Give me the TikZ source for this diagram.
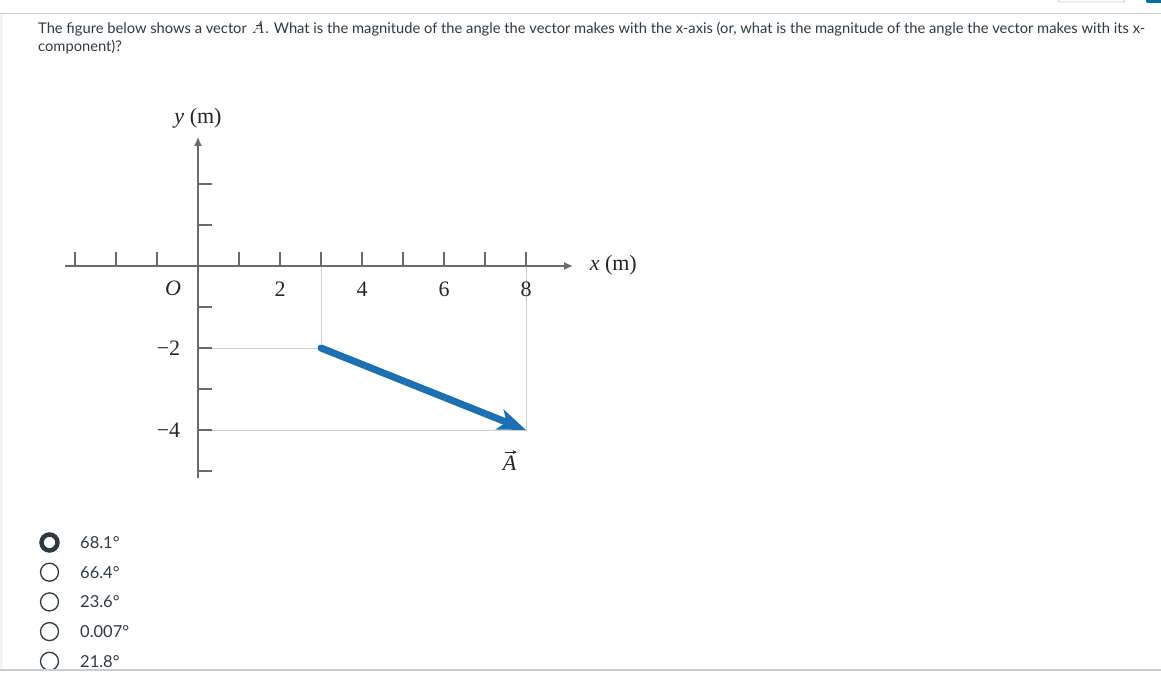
\documentclass[tikz,border=0pt]{standalone}
\usepackage{fontspec}
\setmainfont{Liberation Serif}
\newfontfamily\lato{Lato}
\usetikzlibrary{arrows.meta}
\definecolor{axisgray}{HTML}{6A6A6A}
\definecolor{gridgray}{HTML}{CFCFCF}
\definecolor{vecblue}{HTML}{1C6FB3}
\definecolor{uitext}{HTML}{2D3B45}
\definecolor{uiline}{HTML}{C7CDD1}
\definecolor{uistrip}{HTML}{F3F4F5}
\definecolor{uiblue}{HTML}{0770A3}
\tikzset{
  axisline/.style={axisgray, line width=2pt, -{Latex[length=9pt,width=8pt]}},
  tickline/.style={axisgray, line width=1.3pt},
  gridline/.style={gridgray, line width=0.8pt},
  vecline/.style={vecblue, line width=7pt, line cap=round, -{Stealth[length=28pt,width=21pt,inset=7pt]}},
  figlabel/.style={inner sep=0pt, font=\fontsize{22}{26}\selectfont, text=black!85},
  smallarrow/.style={black!85, line width=0.8pt, -{Stealth[length=4pt,width=4pt]}},
  qarrow/.style={uitext, line width=0.6pt, -{Stealth[length=3pt,width=3pt]}},
  qtext/.style={inner sep=0pt, anchor=base west, font=\lato\fontsize{14.7}{17}\selectfont, text=uitext},
  qmath/.style={inner sep=0pt, anchor=base west, font=\fontsize{17}{17}\selectfont, text=uitext},
  opttext/.style={inner sep=0pt, anchor=west, font=\lato\fontsize{16.5}{19}\selectfont, text=uitext},
  radio/.style={circle, draw=uitext, line width=1.3pt, minimum size=18pt, inner sep=0pt},
  radiosel/.style={circle, draw=uitext, line width=4.5pt, minimum size=16pt, inner sep=0pt, fill=white}
}
\begin{document}
\begin{tikzpicture}[x=1pt,y=-1pt]
\useasboundingbox (0,0) rectangle (1161,676);
\fill[white] (0,0) rectangle (1161,676);
% page chrome
\fill[uistrip] (0,14) rectangle (3,670);
\draw[uiline, line width=1pt] (0,14) -- (1161,14);
\draw[uiline, line width=0.8pt, rounded corners=2pt] (1058,-4) rectangle (1125,2);
\fill[uiblue, rounded corners=2pt] (1146,-6) rectangle (1170,3);
% question
\node[qtext] (q1a) at (38,34) {The figure below shows a vector};
\node[qmath] (qA) at ([xshift=4.5pt]q1a.base east) {$A$};
\draw[qarrow] ([xshift=-2pt,yshift=-3pt]qA.north) -- ([xshift=4pt,yshift=-3pt]qA.north);
\node[qtext] (q1b) at ([xshift=0.5pt]qA.base east) {. What is the magnitude of the angle the vector makes with the x-axis (or, what is the magnitude of the angle the vector makes with its x-};
\node[qtext] (q2) at (38,52) {component)?};
% figure
\begin{scope}[shift={(198,266)}, x=41pt, y=41pt]
  \coordinate (O) at (0,0);
  \coordinate (xl) at (-3.25,0);
  \coordinate (xr) at (9.15,0);
  \coordinate (yb) at (0,-5.18);
  \coordinate (yt) at (0,3.15);
  \coordinate (P) at (3,-2);
  \coordinate (Q) at (8,-4);
  \coordinate (Px) at (3,0);
  \coordinate (Py) at (0,-2);
  \coordinate (Qx) at (8,0);
  \coordinate (Qy) at (0,-4);
  % grid guides
  \draw[gridline] (Px) -- (P) -- (Py);
  \draw[gridline] (Qx) -- (Q) -- (Qy);
  % ticks
  \foreach \i in {-3,-2,-1,1,2,3,4,5,6,7,8}
    \draw[tickline] (\i,0) -- (\i,0.34);
  \foreach \j in {2,1,-1,-2,-3,-4,-5}
    \draw[tickline] (0,\j) -- (0.34,\j);
  % axes
  \draw[axisline] (xl) -- (xr);
  \draw[axisline] (yb) -- (yt);
  % vector
  \draw[vecline] (P) -- (Q);
  % labels
  \node[figlabel, anchor=west] (xlab) at (9.55,0.03) {\textit{x} (m)};
  \node[figlabel] (ylab) at (0,3.6) {\textit{y} (m)};
  \node[figlabel] (olab) at (-0.61,-0.54) {\textit{O}};
  \node[figlabel] (l2) at (2,-0.56) {2};
  \node[figlabel] (l4) at (4,-0.56) {4};
  \node[figlabel] (l6) at (6,-0.56) {6};
  \node[figlabel] (l8) at (8,-0.56) {8};
  \node[figlabel] (lm2) at (-0.72,-2) {−2};
  \node[figlabel] (lm4) at (-0.72,-4) {−4};
  \node[figlabel] (Alab) at (7.6,-4.82) {\textit{A}};
  \draw[smallarrow] ([xshift=-5pt,yshift=4pt]Alab.north) -- ([xshift=7pt,yshift=4pt]Alab.north);
\end{scope}
% options
\node[radiosel] (r1) at (49.5,542.5) {};
\node[radio] (r2) at (49.5,572.2) {};
\node[radio] (r3) at (49.5,601.9) {};
\node[radio] (r4) at (49.5,631.6) {};
\node[radio] (r5) at (49.5,661.3) {};
\node[opttext] (t1) at (80,542.5) {68.1°};
\node[opttext] (t2) at (80,572.2) {66.4°};
\node[opttext] (t3) at (80,601.9) {23.6°};
\node[opttext] (t4) at (80,631.6) {0.007°};
\node[opttext] (t5) at (80,661.3) {21.8°};
% bottom rule
\fill[white] (0,670) rectangle (1161,676);
\draw[uiline, line width=1.5pt] (0,670) -- (1161,670);
\end{tikzpicture}
\end{document}
